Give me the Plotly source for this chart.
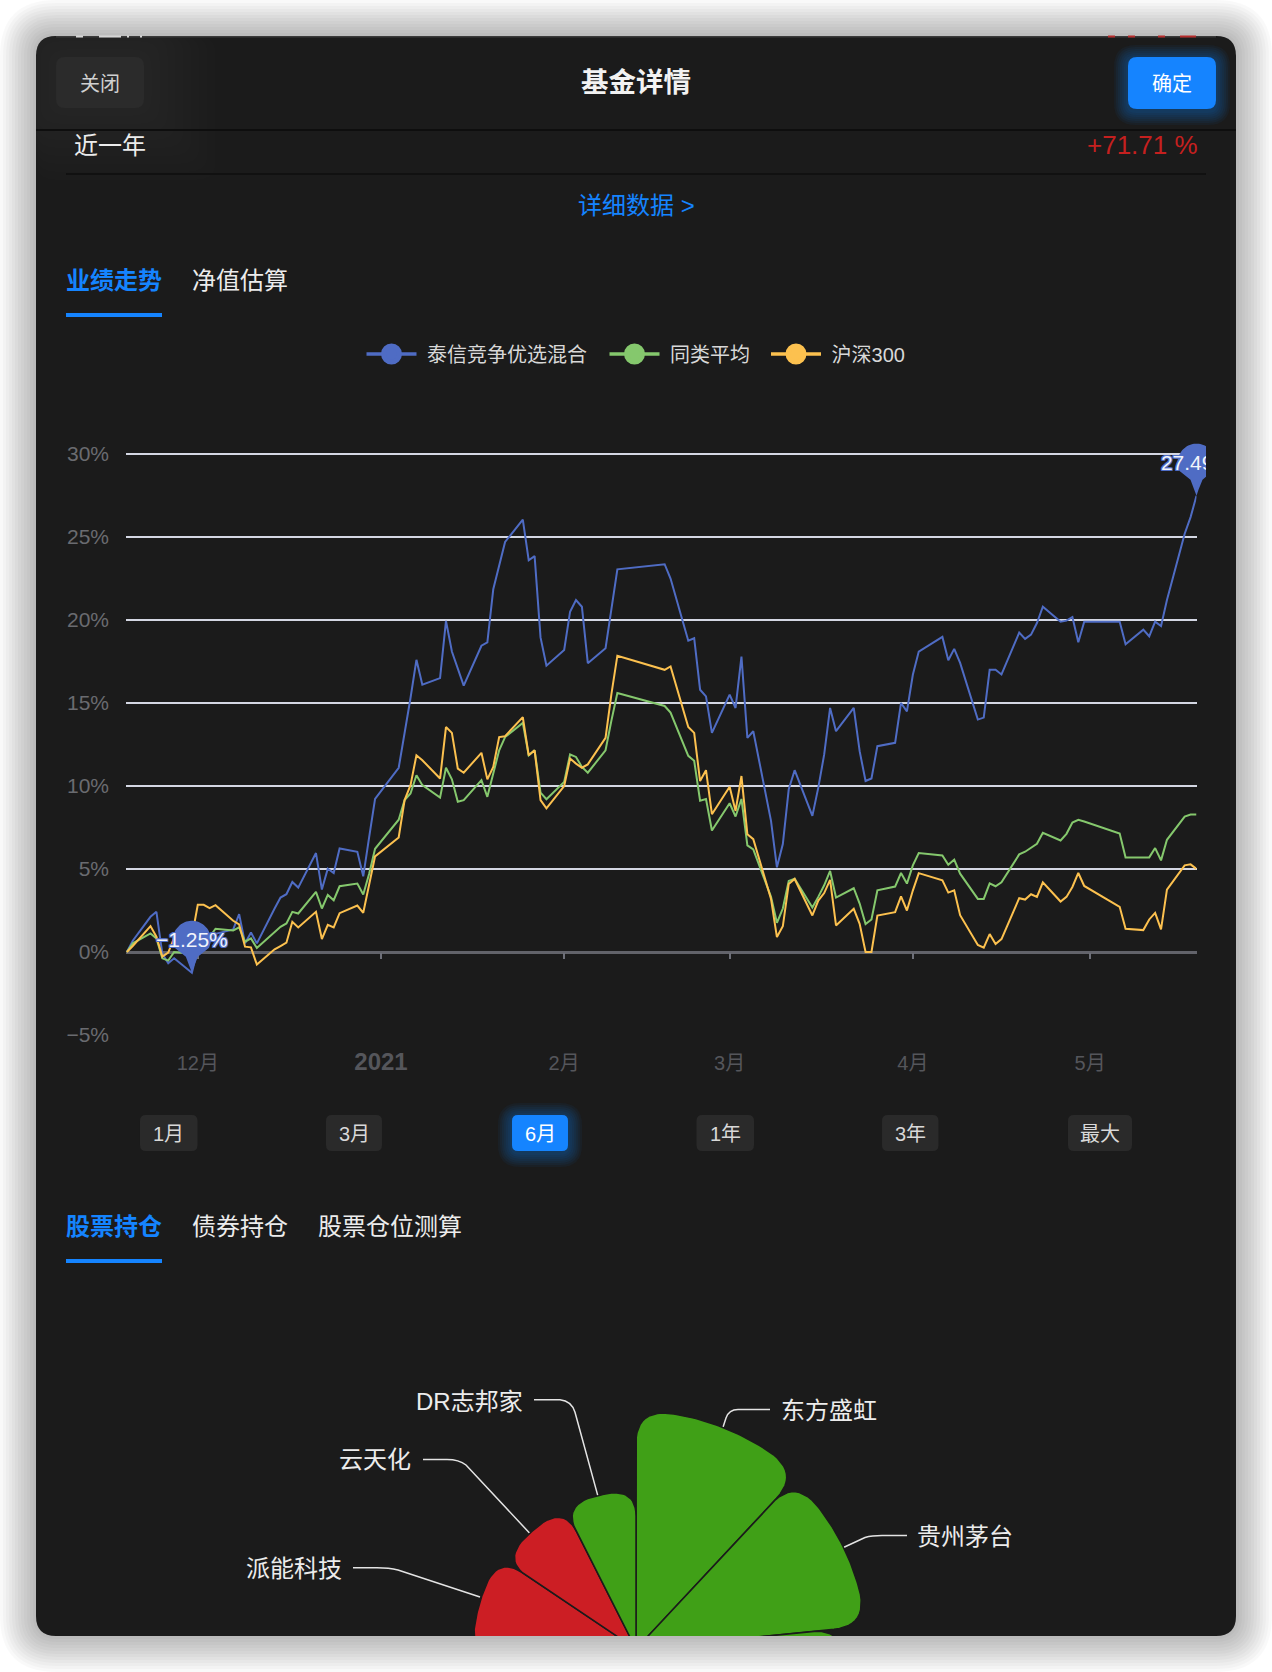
#!/usr/bin/python3
# -*- coding: utf-8 -*-
#
# Fund detail panel: performance chart and stock holdings rose.

import numpy as np
import pandas as pd
import plotly.graph_objects as go

W = 1272
H = 1672

DATES = [
    "2020-11-19", "2020-11-20", "2020-11-23", "2020-11-24", "2020-11-25", "2020-11-26", "2020-11-27", "2020-11-30",
    "2020-12-01", "2020-12-02", "2020-12-03", "2020-12-04", "2020-12-07", "2020-12-08", "2020-12-09", "2020-12-10",
    "2020-12-11", "2020-12-14", "2020-12-15", "2020-12-16", "2020-12-17", "2020-12-18", "2020-12-21", "2020-12-22",
    "2020-12-23", "2020-12-24", "2020-12-25", "2020-12-28", "2020-12-29", "2020-12-30", "2020-12-31",
    "2021-01-04", "2021-01-05", "2021-01-06", "2021-01-07", "2021-01-08", "2021-01-11", "2021-01-12", "2021-01-13",
    "2021-01-14", "2021-01-15", "2021-01-18", "2021-01-19", "2021-01-20", "2021-01-21", "2021-01-22", "2021-01-25",
    "2021-01-26", "2021-01-27", "2021-01-28", "2021-01-29",
    "2021-02-01", "2021-02-02", "2021-02-03", "2021-02-04", "2021-02-05", "2021-02-08", "2021-02-09", "2021-02-10",
    "2021-02-18", "2021-02-19", "2021-02-22", "2021-02-23", "2021-02-24", "2021-02-25", "2021-02-26",
    "2021-03-01", "2021-03-02", "2021-03-03", "2021-03-04", "2021-03-05", "2021-03-08", "2021-03-09", "2021-03-10",
    "2021-03-11", "2021-03-12", "2021-03-15", "2021-03-16", "2021-03-17", "2021-03-18", "2021-03-19", "2021-03-22",
    "2021-03-23", "2021-03-24", "2021-03-25", "2021-03-26", "2021-03-29", "2021-03-30", "2021-03-31",
    "2021-04-01", "2021-04-02", "2021-04-06", "2021-04-07", "2021-04-08", "2021-04-09", "2021-04-12", "2021-04-13",
    "2021-04-14", "2021-04-15", "2021-04-16", "2021-04-19", "2021-04-20", "2021-04-21", "2021-04-22", "2021-04-23",
    "2021-04-26", "2021-04-27", "2021-04-28", "2021-04-29", "2021-04-30",
    "2021-05-06", "2021-05-07", "2021-05-10", "2021-05-11", "2021-05-12", "2021-05-13", "2021-05-14", "2021-05-17",
    "2021-05-18", "2021-05-19",
]

FUND = [
    0, 0.68, 2.12, 2.42, -0.1, -0.68, -0.38, -1.25,
    0.2, 0.7, 1.0, 1.1, 1.36, 2.28, 0.52, 1.18, 0.52, 2.62, 3.28, 3.48, 4.22, 3.88, 5.96, 3.76, 5.02, 4.76, 6.24,
    6.04, 4.56, 6.92, 9.22,
    11.1, 13.1, 15.3, 17.6, 16.1, 16.5, 19.95, 18.1, 17.05, 16.05, 18.45, 18.65, 21.85, 23.25, 24.7, 26.05, 23.6,
    23.85, 18.95, 17.25,
    18.2, 20.5, 21.2, 20.8, 17.4, 18.3, 20.75, 23.05, 23.36, 22.5, 18.75, 18.9, 15.8, 15.4, 13.2,
    15.5, 14.7, 17.8, 12.9, 13.3, 7.9, 5.1, 6.5, 9.8, 10.95, 8.2, 9.9, 11.9, 14.7, 13.3, 14.7, 12.1, 10.3, 10.45,
    12.4, 12.6, 15, 14.5,
    16.7, 18.1, 18.98, 17.58, 18.26, 17.42, 14, 14.12, 17, 17, 16.72, 19.24, 18.86, 19.12, 19.82, 20.8, 19.9, 19.96,
    20.18, 18.66, 19.9,
    19.9, 18.54, 19.42, 19.02, 19.9, 19.64, 21.2, 25.2, 26.2, 27.49,
]

PEERS = [
    0, 0.52, 1.12, 0.82, -0.38, -0.52, 0, -0.1,
    0.3, 0.75, 0.92, 1.4, 1.3, 1.48, 0.62, 0.82, 0.24, 1.22, 1.52, 1.72, 2.42, 2.32, 3.62, 2.62, 3.44, 3.12, 3.96,
    4.12, 3.46, 4.72, 6.22,
    7.97, 9.15, 9.55, 10.65, 10.05, 9.3, 11.1, 10.4, 9.05, 9.15, 10.35, 9.35, 10.75, 12.15, 12.95, 13.8, 11.85,
    12.15, 9.6, 9.2,
    10.25, 11.9, 11.75, 11.15, 10.8, 12.15, 13.95, 15.6, 14.82, 14.42, 11.82, 11.52, 9.12, 9.22, 7.32,
    8.96, 8.16, 9.22, 6.42, 6.18, 3.32, 1.76, 2.62, 4.28, 4.42, 2.68, 3.32, 4.02, 4.88, 3.28, 3.84, 2.92, 1.68, 1.96,
    3.72, 3.94, 4.76, 4.12,
    5.22, 5.96, 5.82, 5.26, 5.56, 4.72, 3.2, 3.2, 4.14, 3.96, 4.2, 5.88, 6.04, 6.26, 6.52, 7.18, 6.72, 7.12, 7.8,
    7.96, 7.86,
    7.14, 5.7, 5.7, 5.7, 6.26, 5.52, 6.76, 8.16, 8.28, 8.28,
]

CSI300 = [
    0, 0.36, 1.56, 0.92, -0.28, -0.04, 0.85, 0.9,
    2.84, 2.84, 2.64, 2.82, 1.88, 1.66, 0.32, 0.28, -0.76, 0.16, 0.36, 0.56, 1.82, 1.48, 2.42, 0.78, 1.64, 1.48, 2.34,
    2.8, 2.36, 4.12, 5.76,
    6.9, 9.15, 10.05, 11.85, 11.55, 10.45, 13.55, 13.2, 11.05, 10.8, 12, 10.4, 11.15, 12.95, 13, 14.15, 11.85,
    12.15, 9.15, 8.65,
    10, 11.65, 11.35, 11.1, 11.3, 12.9, 15.55, 17.85, 17.0, 17.2, 13.55, 13.2, 10.3, 10.95, 8.3,
    9.95, 8.5, 10.6, 7.1, 6.8, 3.2, 0.9, 1.55, 4.1, 4.4, 2.2, 3.1, 3.55, 4.35, 1.6, 2.6, 1.7, 0, 0, 2.2,
    2.4, 3.35, 2.5,
    3.7, 4.75, 4.32, 3.58, 3.72, 2.22, 0.42, 0.26, 1.08, 0.48, 0.78, 3.24, 3.16, 3.48, 3.32, 4.2, 3.04, 3.32, 3.92,
    4.76, 3.98,
    2.72, 1.4, 1.32, 1.96, 2.36, 1.36, 3.76, 5.22, 5.28, 5.0,
]

SERIES_NAMES = ["泰信竞争优选混合", "同类平均", "沪深300"]
SERIES_COLORS = ["#4f6cc4", "#85c86d", "#fcc14f"]

MONTH_TICKS = ["2020-12-01", "2021-01-01", "2021-02-01", "2021-03-01", "2021-04-01", "2021-05-01"]
MONTH_LABELS = ["12月", "<b><span style='font-size:24px'>2021</span></b>", "2月", "3月", "4月", "5月"]
Y_TICKS = [-5, 0, 5, 10, 15, 20, 25, 30]
Y_LABELS = ["−5%", "0%", "5%", "10%", "15%", "20%", "25%", "30%"]

RANGE_LABELS = ["1月", "3月", "6月", "1年", "3年", "最大"]

# holdings rose: angular span (degrees, clockwise from 12 o'clock) and radius of each slice
ROSE_STARTS = [0, 43, 84.3, -92, -56.2, -26.9]
ROSE_ENDS = [43, 84.3, 115, -56.2, -26.9, 0]
ROSE_RADII = [238, 231, 208, 163, 157, 158]
ROSE_COLORS = ["#40a017", "#40a017", "#40a017", "#cc1e24", "#cc1e24", "#40a017"]

BG = "#1b1b1b"
BLUE = "#1584ff"
FONT = "Liberation Sans, Noto Sans CJK SC, sans-serif"

# pixel layout of the chart
PLOT_L, PLOT_R = 126, 1196.5
PIN_R = 1206
Y_BOTTOM, Y_30 = 1035, 454
PX_PER_PCT = (Y_BOTTOM - Y_30) / 35.0
Y_MAX = 32
PLOT_T = Y_BOTTOM - (Y_MAX + 5) * PX_PER_PCT
ROSE_CX, ROSE_CY = 636, 1649


def paperX(x):
    return x / W


def paperY(y):
    return 1 - y / H


def roundRect(x0, y0, x1, y1, r):
    # rounded rectangle as svg path in paper coordinates
    pts = [("M", x0 + r, y0), ("L", x1 - r, y0), ("Q", x1, y0, x1, y0 + r), ("L", x1, y1 - r),
           ("Q", x1, y1, x1 - r, y1), ("L", x0 + r, y1), ("Q", x0, y1, x0, y1 - r), ("L", x0, y0 + r),
           ("Q", x0, y0, x0 + r, y0)]
    out = ""
    for p in pts:
        coords = p[1:]
        out += p[0] + " "
        for i in range(0, len(coords), 2):
            out += f"{paperX(coords[i]):.5f},{paperY(coords[i + 1]):.5f} "
    return out + "Z"


def sectorPoints(a0, a1, r):
    # rounded slice outline from the centre, in rose axis units
    corner = 32 if r > 200 else 25
    a0r, a1r = np.radians(a0), np.radians(a1)
    da = corner / r
    def pol(rad, ang):
        return rad * np.sin(ang), rad * np.cos(ang)
    t = np.linspace(0, 1, 12)
    xs, ys = [0.0], [0.0]
    # first corner
    p0, c, p1 = pol(r - corner, a0r), pol(r, a0r), pol(r, a0r + da)
    xs += list((1 - t) ** 2 * p0[0] + 2 * t * (1 - t) * c[0] + t ** 2 * p1[0])
    ys += list((1 - t) ** 2 * p0[1] + 2 * t * (1 - t) * c[1] + t ** 2 * p1[1])
    # outer arc
    arc = np.linspace(a0r + da, a1r - da, 40)
    xs += list(r * np.sin(arc))
    ys += list(r * np.cos(arc))
    # second corner
    p0, c, p1 = pol(r, a1r - da), pol(r, a1r), pol(r - corner, a1r)
    xs += list((1 - t) ** 2 * p0[0] + 2 * t * (1 - t) * c[0] + t ** 2 * p1[0])
    ys += list((1 - t) ** 2 * p0[1] + 2 * t * (1 - t) * c[1] + t ** 2 * p1[1])
    xs.append(0.0)
    ys.append(0.0)
    return xs, ys


def pinPoints(date, value, pxPerDay):
    # map pin outline, tip sits on the data point
    r = 19
    cy = 33.0
    ang = np.radians(np.linspace(-25, 205, 50))
    dx = list(r * np.cos(ang)) + [-6, -2, 0, 2, 6, r * np.cos(np.radians(-25))]
    dy = list(cy + r * np.sin(ang)) + [16, 6, 0, 6, 16, cy + r * np.sin(np.radians(-25))]
    xs = [pd.Timestamp(date) + pd.Timedelta(days=float(d) / pxPerDay) for d in dx]
    ys = [value + float(d) / PX_PER_PCT for d in dy]
    return xs, ys


fig = go.Figure()

# ---*** performance chart ***---
for name, vals, col in zip(SERIES_NAMES, [FUND, PEERS, CSI300], SERIES_COLORS):
    fig.add_trace(go.Scatter(x=DATES, y=vals, mode="lines", name=name, showlegend=False,
                             line=dict(color=col, width=2), hoverinfo="skip"))

# legend entries, one legend each so they can sit where they should
for i, (name, col) in enumerate(zip(SERIES_NAMES, SERIES_COLORS)):
    fig.add_trace(go.Scatter(x=[None], y=[None], mode="lines+markers", name="\u00a0" + name,
                             legend="legend" if i == 0 else f"legend{i + 1}",
                             line=dict(color=col, width=3.5),
                             marker=dict(color=col, size=16, line=dict(color=col, width=5))))

# carries the month ticks on the zero line
fig.add_trace(go.Scatter(x=[DATES[0]], y=[0], xaxis="x3", yaxis="y", mode="lines", showlegend=False,
                         line=dict(width=0), hoverinfo="skip"))

start = pd.Timestamp(DATES[0]) - pd.Timedelta(hours=3.5)
end = pd.Timestamp(DATES[-1])
pxPerDay = (PLOT_R - PLOT_L) / ((end - start) / pd.Timedelta(days=1))
pinEnd = end + pd.Timedelta(days=(PIN_R - PLOT_R) / pxPerDay)

# min and last value pins
minIdx = int(np.argmin(FUND))
for idx in [minIdx, len(FUND) - 1]:
    px_, py_ = pinPoints(DATES[idx], FUND[idx], pxPerDay)
    fig.add_trace(go.Scatter(x=px_, y=py_, xaxis="x4", yaxis="y4", mode="lines", fill="toself", showlegend=False,
                             line=dict(width=0, color=SERIES_COLORS[0]), fillcolor=SERIES_COLORS[0],
                             hoverinfo="skip"))
for idx in [minIdx, len(FUND) - 1]:
    outline = SERIES_COLORS[0]
    shadow = ", ".join(f"{a}px {b}px 0 {outline}" for a, b in [(1, 0), (-1, 0), (0, 1), (0, -1), (1, 1), (-1, -1), (1, -1), (-1, 1)])
    label = f"{FUND[idx]:.2f}%".replace("-", "−")
    fig.add_trace(go.Scatter(x=[DATES[idx]], y=[FUND[idx] + 31 / PX_PER_PCT], xaxis="x4", yaxis="y4", mode="text",
                             text=[label], textposition="middle center", showlegend=False, hoverinfo="skip",
                             textfont=dict(family=FONT, size=21, color="#f2f4fb", shadow=shadow)))

# ---*** holdings rose ***---
for a0, a1, r, col in zip(ROSE_STARTS, ROSE_ENDS, ROSE_RADII, ROSE_COLORS):
    xs, ys = sectorPoints(a0, a1, r)
    fig.add_trace(go.Scatter(x=xs, y=ys, xaxis="x2", yaxis="y2", mode="lines", fill="toself", showlegend=False,
                             fillcolor=col, line=dict(color=BG, width=1.5), hoverinfo="skip"))

shapes = []

# card shadow, stacked since shapes cannot blur
for e in range(36, 0, -3):
    shapes.append(dict(type="path", path=roundRect(36 - e, 36 - e, 1236 + e, 1636 + e, 20 + e), xref="paper",
                       yref="paper", fillcolor="rgba(0,0,0,0.022)", line_width=0, layer="below"))
shapes.append(dict(type="path", path=roundRect(36, 36, 1236, 1636, 20), xref="paper", yref="paper",
                   fillcolor=BG, line_width=0, layer="below"))

# soft halo behind the close button, stays inside the card
for e in range(72, 0, -8):
    shapes.append(dict(type="path", path=roundRect(max(36, 56 - e), max(36, 57 - e), 144 + e, 108 + e, 20),
                       xref="paper", yref="paper", fillcolor="rgba(255,255,255,0.006)", line_width=0, layer="below"))

# glow around the highlighted buttons
for x0, y0, x1, y1 in [(1128, 57, 1216, 109), (512, 1115, 568, 1151)]:
    for e in range(14, 0, -2):
        shapes.append(dict(type="path", path=roundRect(x0 - e, y0 - e + 2, x1 + e, y1 + e + 2, 8 + e), xref="paper",
                           yref="paper", fillcolor="rgba(21,132,255,0.05)", line_width=0, layer="below"))


def addRect(x0, y0, x1, y1, r, col):
    shapes.append(dict(type="path", path=roundRect(x0, y0, x1, y1, r), xref="paper", yref="paper",
                       fillcolor=col, line_width=0, layer="below"))


addRect(56, 180 - 123, 144, 108, 9, "#2b2b2b")
addRect(1128, 57, 1216, 109, 9, BLUE)
addRect(56, 36, 1216, 37.5, 0.1, "#3a3a3a")
addRect(36, 129, 1236, 131, 0.1, "#0e0e0e")
addRect(66, 173, 1206, 175, 0.1, "#111111")
addRect(66, 313, 162, 317, 0.1, BLUE)
addRect(66, 1259, 162, 1263, 0.1, BLUE)

# bottoms of the row that scrolled under the header
for x0, x1 in [(76, 83), (99, 121), (127, 129), (140, 142)]:
    addRect(x0, 35.5, x1, 37.5, 0.1, "#d5d5d5")
for x0, x1 in [(1108, 1115), (1128, 1135), (1158, 1165), (1180, 1196)]:
    addRect(x0, 35.5, x1, 37.5, 0.1, "#b52a2a")

# period buttons
rangeBoxes = [(140, 197.5), (326, 382), (512, 568), (696.5, 754), (882, 938.5), (1068, 1132)]
for i, (x0, x1) in enumerate(rangeBoxes):
    addRect(x0, 1115, x1, 1151, 6, BLUE if i == 2 else "#2a2a2a")

# leader lines of the rose labels
LEADERS = [
    [(723, 1427.3), (726, 1418), (729, 1409.6), (738, 1409.6), (770, 1409.6)],
    [(844, 1547.3), (865, 1537.5), (872, 1535.6), (882, 1535.6), (907, 1535.6)],
    [(598, 1496.4), (575, 1412.2), (571.6, 1400.9), (560, 1399.7), (534, 1399.7)],
    [(529.5, 1533), (466, 1465), (459, 1459.4), (447, 1459.4), (423, 1459.4)],
    [(480, 1597), (398, 1570), (389, 1567.7), (377, 1567.7), (353, 1567.7)],
]
for p in LEADERS:
    f = [(paperX(a), paperY(b)) for a, b in p]
    path = (f"M {f[0][0]:.5f},{f[0][1]:.5f} L {f[1][0]:.5f},{f[1][1]:.5f} "
            f"Q {f[2][0]:.5f},{f[2][1]:.5f} {f[3][0]:.5f},{f[3][1]:.5f} L {f[4][0]:.5f},{f[4][1]:.5f}")
    shapes.append(dict(type="path", path=path, xref="paper", yref="paper", line=dict(color="#e4e4e4", width=1.5),
                       fillcolor="rgba(0,0,0,0)", layer="below"))

annotations = []


def addText(x, y, text, size, color, anchor="left", weight=None):
    f = dict(family=FONT, size=size, color=color)
    if weight:
        f["weight"] = weight
    annotations.append(dict(x=paperX(x), y=paperY(y), xref="paper", yref="paper", text=text, showarrow=False,
                            xanchor=anchor, yanchor="middle", font=f, borderpad=0, borderwidth=0))


addText(100, 84, "关闭", 20, "#d0d0d0", "center")
addText(636, 83, "基金详情", 27.5, "#f2f2f2", "center", 700)
addText(1172, 84, "确定", 20, "#ffffff", "center")
addText(74, 145, "近一年", 24, "#ececec")
addText(1198, 145, "+71.71 %", 26, "#c5201f", "right")
addText(636, 205, "详细数据 >", 24, BLUE, "center")
addText(66, 280, "业绩走势", 24, BLUE, "left", 700)
addText(192, 280, "净值估算", 24, "#ececec")
addText(66, 1226.5, "股票持仓", 24, BLUE, "left", 700)
addText(192, 1226.5, "债券持仓", 24, "#ececec")
addText(318, 1226.5, "股票仓位测算", 24, "#ececec")
for i, lab in enumerate(RANGE_LABELS):
    addText(sum(rangeBoxes[i]) / 2, 1134, lab, 20, "#ffffff" if i == 2 else "#d8d8d8", "center")
addText(781, 1410, "东方盛虹", 24, "#ececec")
addText(917, 1536, "贵州茅台", 24, "#ececec")
addText(523, 1401, "DR志邦家", 24, "#ececec", "right")
addText(411, 1459, "云天化", 24, "#ececec", "right")
addText(342, 1568, "派能科技", 24, "#ececec", "right")

legendBase = dict(orientation="h", xanchor="left", yanchor="middle", y=paperY(354), bgcolor="rgba(0,0,0,0)",
                  itemwidth=50, font=dict(family=FONT, size=20, color="#d8d8d8"), itemclick=False,
                  itemdoubleclick=False)

fig.update_layout(
    width=W, height=H, autosize=False, margin=dict(l=0, r=0, t=0, b=0, pad=0, autoexpand=False),
    paper_bgcolor="#ffffff", plot_bgcolor="rgba(0,0,0,0)", showlegend=True,
    font=dict(family=FONT),
    legend=dict(legendBase, x=paperX(361.5)),
    legend2=dict(legendBase, x=paperX(604.5)),
    legend3=dict(legendBase, x=paperX(766)),
    xaxis=dict(domain=[paperX(PLOT_L), paperX(PLOT_R)], range=[start, end], type="date", anchor="y",
               tickmode="array", tickvals=MONTH_TICKS, ticktext=MONTH_LABELS, ticks="", showgrid=False,
               zeroline=False, showline=False, ticklabelstandoff=14,
               tickfont=dict(family=FONT, size=20, color="#55565b")),
    xaxis3=dict(overlaying="x", range=[start, end], type="date", anchor="free",
                position=paperY(Y_BOTTOM - 5 * PX_PER_PCT), tickmode="array", tickvals=MONTH_TICKS,
                showticklabels=False, ticks="outside", ticklen=6, tickwidth=1.5, tickcolor="#6e7079",
                showgrid=False, zeroline=False, showline=False),
    xaxis4=dict(domain=[paperX(PLOT_L), paperX(PIN_R)], range=[start, pinEnd], type="date", anchor="y4",
                visible=False, showgrid=False, zeroline=False),
    yaxis=dict(domain=[paperY(Y_BOTTOM), paperY(PLOT_T)], range=[-5, Y_MAX], anchor="x", tickmode="array",
               tickvals=Y_TICKS, ticktext=Y_LABELS, ticks="", showline=False, showgrid=True, gridcolor="#d4d7e3",
               gridwidth=2.2, zeroline=True, zerolinecolor="#62636a", zerolinewidth=2.5, ticklabelstandoff=16,
               tickfont=dict(family=FONT, size=21, color="#6a6b70")),
    yaxis4=dict(domain=[paperY(Y_BOTTOM), paperY(PLOT_T)], range=[-5, Y_MAX], anchor="x4", visible=False,
                showgrid=False, zeroline=False),
    # rose axes are in pixels around the rose centre and clip it at the card edge
    xaxis2=dict(domain=[paperX(36), paperX(1236)], range=[36 - ROSE_CX, 1236 - ROSE_CX], anchor="y2", visible=False,
                showgrid=False, zeroline=False),
    yaxis2=dict(domain=[paperY(1636), paperY(1280)], range=[ROSE_CY - 1636, ROSE_CY - 1280], anchor="x2",
                visible=False, showgrid=False, zeroline=False),
    shapes=shapes,
    annotations=annotations,
)

fig.write_html("out.html", config={"displayModeBar": False},
               post_script="document.body.style.margin='0';document.body.style.overflow='hidden';")
